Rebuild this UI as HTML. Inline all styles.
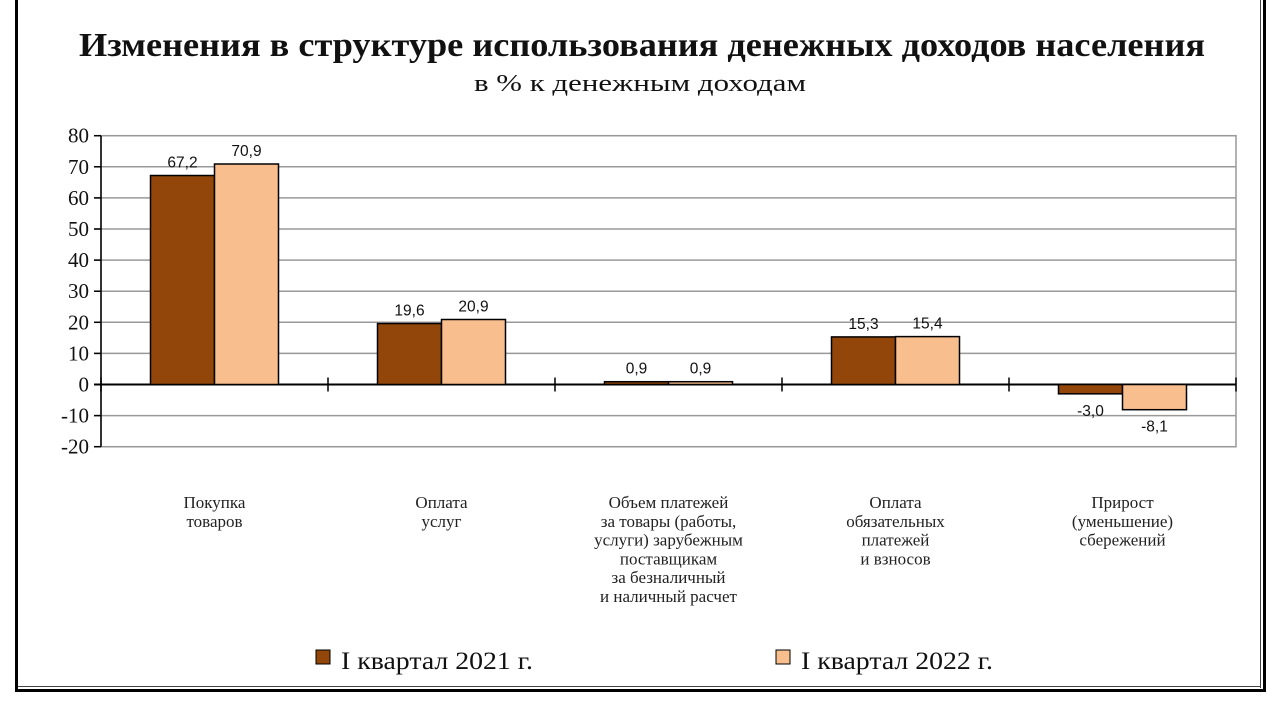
<!DOCTYPE html>
<html><head><meta charset="utf-8">
<style>
body{margin:0;background:#fff;width:1280px;height:705px;overflow:hidden;font-family:"Liberation Serif",serif;}
svg text{font-family:"Liberation Serif",serif;}
.n{font-family:"Liberation Sans",sans-serif;font-size:15.5px;fill:#111;}
</style></head><body>
<svg id="chart" width="1280" height="705">
<rect x="15" y="0" width="3" height="692" fill="#000"/>
<rect x="1263" y="0" width="3" height="692" fill="#000"/>
<rect x="1260" y="0" width="1" height="688" fill="#444"/>
<rect x="15" y="689" width="1251" height="3" fill="#000"/>
<rect x="18" y="686" width="1243" height="1" fill="#444"/>
<text x="79" y="56" textLength="1126" lengthAdjust="spacingAndGlyphs" font-size="34" font-weight="bold" fill="#111">Изменения в структуре использования денежных доходов населения</text>
<text x="474" y="91" textLength="332" lengthAdjust="spacingAndGlyphs" font-size="24" fill="#111">в % к денежным доходам</text>
<g id="plot"></g>
<g>
<rect x="316" y="650" width="14" height="14" fill="#934609" stroke="#000"/>
<text x="341" y="669" textLength="192" lengthAdjust="spacingAndGlyphs" font-size="25" fill="#111">I квартал 2021 г.</text>
<rect x="776" y="650" width="14" height="14" fill="#F9BE8E" stroke="#000"/>
<text x="801" y="669" textLength="192" lengthAdjust="spacingAndGlyphs" font-size="25" fill="#111">I квартал 2022 г.</text>
</g>
</svg>
<script>
const categories=[["Покупка","товаров"],["Оплата","услуг"],["Объем платежей","за товары (работы,","услуги) зарубежным","поставщикам","за безналичный","и наличный расчет"],["Оплата","обязательных","платежей","и взносов"],["Прирост","(уменьшение)","сбережений"]];
const series2021=[67.2,19.6,0.9,15.3,-3.0];
const series2022=[70.9,20.9,0.9,15.4,-8.1];
const yTicks=[80,70,60,50,40,30,20,10,0,-10,-20];
const NS="http://www.w3.org/2000/svg";
const g=document.getElementById('plot');
const X0=101,X1=1236,Y0=384.5,K=3.11;
const y=v=>Y0-v*K;
const cw=(X1-X0)/categories.length;
const bw=64;
function el(t,a,p){const e=document.createElementNS(NS,t);for(const k in a)e.setAttribute(k,a[k]);(p||g).appendChild(e);return e;}
el('rect',{x:X0,y:y(80),width:X1-X0,height:y(-20)-y(80),fill:'#fff',stroke:'#999','stroke-width':1.5});
yTicks.forEach(v=>{
  const l=el('line',{x1:X0-7,x2:X1,y1:y(v),y2:y(v),stroke:v===0?'#000':'#999','stroke-width':v===0?2:1.5});
  
  
  el('line',{x1:X0-7,x2:X0,y1:y(v),y2:y(v),stroke:'#000','stroke-width':1.5});
  const t=el('text',{x:X0-12,y:y(v)+7,'text-anchor':'end','font-size':21,fill:'#111'});
  t.textContent=v;
  
  
});
el('line',{x1:X0,x2:X0,y1:y(80),y2:y(-20),stroke:'#000','stroke-width':1.5});
for(let i=0;i<=categories.length;i++){el('line',{x1:X0+i*cw,x2:X0+i*cw,y1:Y0-7,y2:Y0+7,stroke:'#000','stroke-width':1.5});}
categories.forEach((c,i)=>{
  const cx=X0+cw*(i+0.5);
  [[series2021[i],'#934609',cx-bw],[series2022[i],'#F9BE8E',cx]].forEach((d,j)=>{
    const v=d[0];
    const r=el('rect',{x:d[2],y:Math.min(y(v),Y0),width:bw,height:Math.max(Math.abs(y(v)-Y0),1.5),fill:d[1],stroke:'#000','stroke-width':1.5});
    
    
    const ty=v>=0?y(v)-8:y(v)+22;
    const t=el('text',{x:d[2]+bw/2,y:ty,'text-anchor':'middle',class:'n'});
    t.textContent=v.toFixed(1).replace('.',',');
    
    
  });
  const t=el('text',{'text-anchor':'middle','font-size':17,fill:'#222'});
  
  
  c.forEach((s,k)=>{const ts=el('tspan',{x:cx,y:508+k*18.8},t);ts.textContent=s;});
});
</script>
</body></html>
